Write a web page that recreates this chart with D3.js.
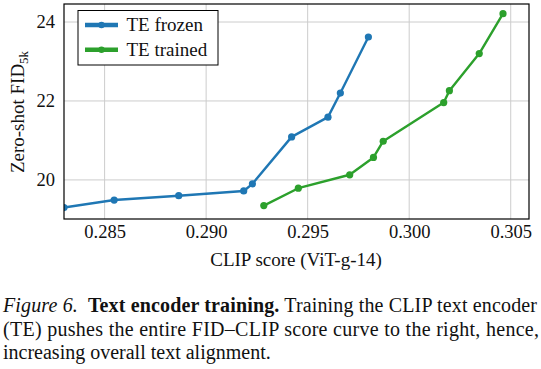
<!DOCTYPE html>
<html>
<head>
<meta charset="UTF-8">
<script src="https://d3js.org/d3.v7.min.js"></script>
<style>
  body { margin: 0; background: #fff; }
</style>
</head>
<body>
<div id="chart"></div>
<script>
// CLIP score (x) vs zero-shot FID (y)
const frozenClip = [0.2830, 0.28547, 0.28865, 0.29185, 0.29228, 0.29421, 0.2960, 0.29661, 0.29799];
const frozenFid  = [19.30, 19.49, 19.60, 19.72, 19.90, 21.09, 21.59, 22.20, 23.62];
const trainedClip = [0.29284, 0.29454, 0.29707, 0.29824, 0.29872, 0.30170, 0.30198, 0.30345, 0.30462];
const trainedFid  = [19.35, 19.79, 20.13, 20.57, 20.98, 21.96, 22.26, 23.20, 24.21];
const seriesNames = ["TE frozen", "TE trained"];
const seriesColors = ["#1f77b4", "#2ca02c"];
const xTicks = [0.285, 0.290, 0.295, 0.300, 0.305];
const yTicks = [20, 22, 24];

const FONT = "Liberation Serif";
const width = 541, height = 369;
const margin = { top: 4, right: 12, bottom: 150, left: 64 };

const x = d3.scaleLinear().domain([0.2830, 0.30590]).range([margin.left, width - margin.right]);
const y = d3.scaleLinear().domain([19.01, 24.456]).range([height - margin.bottom, margin.top]);

const svg = d3.select("#chart").append("svg")
  .attr("width", width).attr("height", height);

const y0 = height - margin.bottom;

// grid
svg.append("g").selectAll("line").data(xTicks).join("line")
  .attr("x1", d => x(d)).attr("x2", d => x(d))
  .attr("y1", margin.top).attr("y2", y0)
  .attr("stroke", "#cccccc").attr("stroke-width", 1);
svg.append("g").selectAll("line").data(yTicks).join("line")
  .attr("x1", margin.left).attr("x2", width - margin.right)
  .attr("y1", d => y(d)).attr("y2", d => y(d))
  .attr("stroke", "#cccccc").attr("stroke-width", 1);

// axes (labels only, no tick marks)
const xAxis = svg.append("g").attr("transform", `translate(0,${y0})`)
  .call(d3.axisBottom(x).tickValues(xTicks).tickFormat(d3.format(".3f")).tickSize(0).tickPadding(6));
xAxis.select(".domain").remove();
xAxis.selectAll("text").attr("fill", "#111")
  .style("font-family", FONT).style("font-size", "18.5px");

const yAxis = svg.append("g").attr("transform", `translate(${margin.left},0)`)
  .call(d3.axisLeft(y).tickValues(yTicks).tickFormat(d3.format("d")).tickSize(0).tickPadding(9));
yAxis.select(".domain").remove();
yAxis.selectAll("text").attr("fill", "#111")
  .style("font-family", FONT).style("font-size", "18.5px");

// series
const series = [
  { name: seriesNames[0], color: seriesColors[0], pts: frozenClip.map((c, i) => [c, frozenFid[i]]) },
  { name: seriesNames[1], color: seriesColors[1], pts: trainedClip.map((c, i) => [c, trainedFid[i]]) }
];

svg.append("clipPath").attr("id", "plotclip").append("rect")
  .attr("x", margin.left).attr("y", margin.top)
  .attr("width", width - margin.right - margin.left).attr("height", y0 - margin.top);

const line = d3.line().x(d => x(d[0])).y(d => y(d[1]));
const plot = svg.append("g").attr("clip-path", "url(#plotclip)");
series.forEach(s => {
  plot.append("path").datum(s.pts)
    .attr("d", line).attr("fill", "none")
    .attr("stroke", s.color).attr("stroke-width", 2.4).attr("stroke-linejoin", "round");
  plot.selectAll(null).data(s.pts).join("circle")
    .attr("cx", d => x(d[0])).attr("cy", d => y(d[1])).attr("r", 3.6)
    .attr("fill", s.color);
});

// frame
svg.append("rect")
  .attr("x", margin.left).attr("y", margin.top)
  .attr("width", width - margin.right - margin.left).attr("height", y0 - margin.top)
  .attr("fill", "none").attr("stroke", "#000").attr("stroke-width", 1.2);

// legend
const lg = svg.append("g");
lg.append("rect").attr("x", 78).attr("y", 10.5).attr("width", 140).attr("height", 54.5)
  .attr("fill", "#fff").attr("stroke", "#000").attr("stroke-width", 1);
series.forEach((s, i) => {
  const ly = 25 + i * 24.7;
  lg.append("line").attr("x1", 85).attr("x2", 118).attr("y1", ly).attr("y2", ly)
    .attr("stroke", s.color).attr("stroke-width", 4.5);
  lg.append("circle").attr("cx", 101.5).attr("cy", ly).attr("r", 3.2).attr("fill", s.color);
  lg.append("text").attr("x", 126.5).attr("y", ly + 6.3)
    .style("font-family", FONT).style("font-size", "19px").attr("fill", "#111").text(s.name);
});

// axis titles
svg.append("text").attr("x", 296).attr("y", 265.5)
  .attr("text-anchor", "middle").style("font-family", FONT).style("font-size", "19px").attr("fill", "#111")
  .text("CLIP score (ViT-g-14)");

const yl = svg.append("text").attr("transform", `translate(23.5,112) rotate(-90)`)
  .attr("text-anchor", "middle").style("font-family", FONT).style("font-size", "19px").attr("fill", "#111");
yl.append("tspan").text("Zero-shot FID");
yl.append("tspan").attr("dy", 4).style("font-size", "13px").text("5k");

// caption
const cap = svg.append("g").attr("fill", "#111");
const l1 = cap.append("text").attr("x", 3).attr("y", 311.5)
  .style("font-family", FONT).style("font-size", "20px")
  .attr("textLength", 534).attr("lengthAdjust", "spacing");
l1.append("tspan").style("font-style", "italic").text("Figure 6.");
l1.append("tspan").style("font-weight", "bold").text("\u00a0 Text encoder training.");
l1.append("tspan").text(" Training the CLIP text encoder");
cap.append("text").attr("x", 3).attr("y", 335.5)
  .style("font-family", FONT).style("font-size", "20px")
  .attr("textLength", 536).attr("lengthAdjust", "spacing")
  .text("(TE) pushes the entire FID\u2013CLIP score curve to the right, hence,");
cap.append("text").attr("x", 3).attr("y", 359)
  .style("font-family", FONT).style("font-size", "20px")
  .text("increasing overall text alignment.");
</script>
</body>
</html>
